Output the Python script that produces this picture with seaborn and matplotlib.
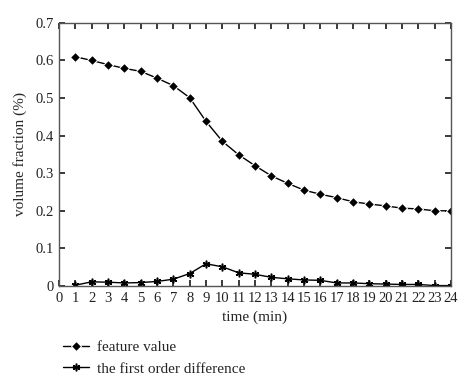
import numpy as np
import pandas as pd
import matplotlib
matplotlib.use("Agg")
import matplotlib.pyplot as plt
import seaborn as sns


TIME_MIN = list(range(1, 25))
FEATURE_VALUE = [0.610, 0.600, 0.589, 0.579, 0.571, 0.553, 0.533, 0.501,
                 0.438, 0.385, 0.349, 0.320, 0.293, 0.273, 0.255, 0.244,
                 0.235, 0.224, 0.218, 0.213, 0.207, 0.205, 0.200, 0.200]
FIRST_DIFF = [0.002, 0.011, 0.010, 0.008, 0.009, 0.012, 0.018, 0.033,
              0.059, 0.051, 0.035, 0.031, 0.023, 0.019, 0.016, 0.015,
              0.008, 0.008, 0.006, 0.005, 0.004, 0.004, 0.001, 0.001]
X_TICKS = list(range(0, 25))
Y_TICKS = [0, 0.1, 0.2, 0.3, 0.4, 0.5, 0.6, 0.7]
Y_TICK_LABELS = ["0", "0.1", "0.2", "0.3", "0.4", "0.5", "0.6", "0.7"]


def main():
	sns.set_theme(style="ticks")
	plt.rcParams["font.family"] = ["Liberation Serif", "DejaVu Serif"]

	df = pd.DataFrame({
		"time": TIME_MIN,
		"feature value": FEATURE_VALUE,
		"the first order difference": FIRST_DIFF,
	})

	fig = plt.figure(figsize=(4.74, 3.88), dpi=100)
	ax = fig.add_axes([0.1245, 0.263, 0.827, 0.678])

	sns.lineplot(data=df, x="time", y="feature value", ax=ax, color="black",
				 marker="D", markersize=5, linewidth=1.0, linestyle="-",
				 label="feature value")
	sns.lineplot(data=df, x="time", y="the first order difference", ax=ax,
				 color="black", marker=(6, 2, 0), markersize=5.5,
				 markeredgewidth=1.1, markeredgecolor="black",
				 linewidth=1.0, linestyle="-",
				 label="the first order difference")

	ax.set_xlim(0, 24)
	ax.set_ylim(0, 0.7)
	ax.set_xticks(X_TICKS)
	ax.set_yticks(Y_TICKS)
	ax.set_yticklabels(Y_TICK_LABELS)
	ax.tick_params(direction="in", top=True, right=True, length=4,
				   labelsize=10.5, colors="#222222", pad=4)
	for spine in ax.spines.values():
		spine.set_color("#555555")
		spine.set_linewidth(1.0)

	ax.set_xlabel("time (min)", fontsize=11, labelpad=4)
	ax.set_ylabel("volume fraction (%)", fontsize=11, labelpad=6)

	ax.legend(loc="upper left", bbox_to_anchor=(-0.005, -0.185), frameon=False,
			  fontsize=11, handlelength=1.7, handletextpad=0.5,
			  labelspacing=0.5, borderaxespad=0)

	fig.savefig("out.png", dpi=100)


if __name__ == "__main__":
	main()
